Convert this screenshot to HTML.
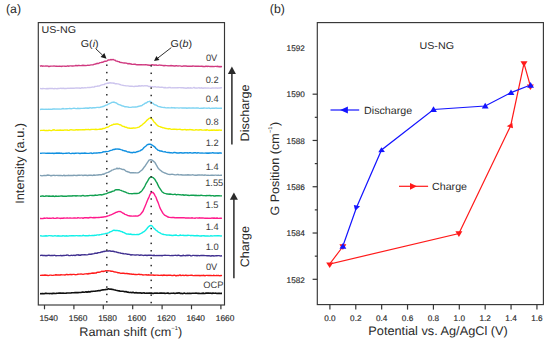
<!DOCTYPE html>
<html><head><meta charset="utf-8"><style>
html,body{margin:0;padding:0;background:#fff;overflow:hidden;}
svg{display:block;font-family:"Liberation Sans",sans-serif;text-rendering:geometricPrecision;}
</style></head><body>
<svg width="550" height="343" viewBox="0 0 550 343">
<rect width="550" height="343" fill="#fff"/>
<text transform="translate(6.00,13.20)" font-size="12.3" fill="#2a2a2a">(a)</text>
<text transform="translate(269.80,13.20)" font-size="12.3" fill="#2a2a2a">(b)</text>
<path d="M40.0,66.43 L41.0,65.71 L42.0,66.19 L43.0,66.05 L44.0,66.08 L45.0,66.12 L46.0,65.84 L47.0,66.14 L48.0,66.04 L49.0,66.71 L50.0,66.22 L51.0,66.13 L52.0,66.15 L53.0,66.09 L54.0,66.03 L55.0,66.14 L56.0,66.28 L57.0,66.16 L58.0,66.35 L59.0,66.17 L60.0,66.20 L61.0,66.44 L62.0,66.28 L63.0,66.10 L64.0,66.13 L65.0,66.23 L66.0,66.43 L67.0,66.05 L68.0,66.02 L69.0,66.19 L70.0,65.85 L71.0,65.91 L72.0,66.06 L73.0,65.98 L74.0,65.86 L75.0,65.91 L76.0,65.31 L77.0,65.88 L78.0,65.53 L79.0,65.37 L80.0,65.64 L81.0,65.67 L82.0,65.45 L83.0,65.31 L84.0,65.45 L85.0,65.39 L86.0,65.58 L87.0,65.42 L88.0,65.27 L89.0,65.35 L90.0,65.06 L91.0,64.83 L92.0,64.92 L93.0,64.74 L94.0,64.39 L95.0,64.07 L96.0,63.98 L97.0,63.30 L98.0,63.56 L99.0,63.27 L100.0,62.66 L101.0,62.65 L102.0,62.20 L103.0,62.18 L104.0,61.44 L105.0,61.30 L106.0,61.21 L107.0,60.91 L108.0,60.03 L109.0,59.97 L110.0,59.84 L111.0,59.52 L112.0,59.81 L113.0,59.46 L114.0,59.96 L115.0,60.11 L116.0,60.95 L117.0,61.16 L118.0,61.49 L119.0,61.58 L120.0,62.38 L121.0,62.45 L122.0,62.66 L123.0,62.91 L124.0,62.97 L125.0,62.98 L126.0,63.13 L127.0,63.29 L128.0,63.80 L129.0,63.51 L130.0,63.81 L131.0,64.01 L132.0,64.24 L133.0,64.42 L134.0,64.22 L135.0,64.22 L136.0,64.54 L137.0,64.78 L138.0,64.74 L139.0,64.69 L140.0,64.63 L141.0,64.75 L142.0,64.69 L143.0,64.88 L144.0,64.65 L145.0,64.82 L146.0,64.80 L147.0,64.93 L148.0,64.90 L149.0,65.31 L150.0,65.17 L151.0,65.20 L152.0,64.67 L153.0,64.98 L154.0,64.98 L155.0,65.20 L156.0,64.79 L157.0,65.38 L158.0,65.40 L159.0,65.06 L160.0,65.15 L161.0,65.22 L162.0,65.39 L163.0,65.53 L164.0,65.79 L165.0,65.47 L166.0,65.66 L167.0,65.59 L168.0,65.88 L169.0,65.75 L170.0,65.88 L171.0,65.52 L172.0,65.70 L173.0,65.63 L174.0,66.04 L175.0,65.94 L176.0,65.81 L177.0,65.82 L178.0,66.00 L179.0,65.84 L180.0,65.84 L181.0,66.09 L182.0,66.44 L183.0,66.03 L184.0,66.00 L185.0,65.93 L186.0,65.92 L187.0,66.24 L188.0,66.31 L189.0,66.19 L190.0,66.25 L191.0,66.23 L192.0,66.24 L193.0,65.99 L194.0,66.17 L195.0,66.27 L196.0,66.14 L197.0,66.19 L198.0,66.15 L199.0,66.24 L200.0,66.43 L201.0,66.24 L202.0,66.29 L203.0,66.45 L204.0,66.43 L205.0,66.61 L206.0,66.01 L207.0,66.49 L208.0,66.28 L209.0,66.38 L210.0,66.50 L211.0,66.55 L212.0,66.54 L213.0,66.41 L214.0,66.64 L215.0,66.34 L216.0,66.37 L217.0,66.52 L218.0,66.31 L219.0,66.74 L220.0,66.56 L221.0,66.75 L222.0,66.40" fill="none" stroke="#d03a80" stroke-width="1.4" stroke-linejoin="round"/>
<path d="M40.0,88.54 L41.0,88.63 L42.0,88.72 L43.0,88.50 L44.0,88.65 L45.0,88.59 L46.0,88.84 L47.0,88.47 L48.0,88.74 L49.0,88.46 L50.0,88.40 L51.0,88.44 L52.0,88.35 L53.0,88.55 L54.0,88.69 L55.0,88.54 L56.0,88.60 L57.0,88.75 L58.0,88.52 L59.0,88.49 L60.0,88.41 L61.0,88.18 L62.0,88.54 L63.0,88.13 L64.0,88.50 L65.0,88.38 L66.0,88.54 L67.0,88.34 L68.0,88.20 L69.0,88.37 L70.0,88.21 L71.0,88.25 L72.0,88.27 L73.0,88.22 L74.0,88.20 L75.0,88.07 L76.0,88.15 L77.0,87.81 L78.0,88.10 L79.0,87.90 L80.0,88.24 L81.0,88.23 L82.0,87.68 L83.0,87.97 L84.0,87.89 L85.0,87.69 L86.0,87.89 L87.0,87.68 L88.0,87.41 L89.0,87.57 L90.0,87.49 L91.0,87.41 L92.0,87.04 L93.0,87.17 L94.0,87.00 L95.0,86.50 L96.0,86.38 L97.0,86.25 L98.0,85.96 L99.0,86.11 L100.0,85.62 L101.0,85.15 L102.0,84.85 L103.0,84.61 L104.0,84.61 L105.0,83.84 L106.0,83.55 L107.0,83.32 L108.0,83.00 L109.0,83.24 L110.0,82.74 L111.0,82.98 L112.0,82.98 L113.0,83.18 L114.0,83.06 L115.0,83.71 L116.0,83.58 L117.0,83.79 L118.0,83.83 L119.0,84.08 L120.0,84.53 L121.0,84.86 L122.0,85.08 L123.0,85.39 L124.0,85.52 L125.0,85.59 L126.0,85.85 L127.0,85.92 L128.0,85.91 L129.0,86.13 L130.0,86.30 L131.0,86.21 L132.0,86.17 L133.0,86.38 L134.0,86.59 L135.0,86.25 L136.0,86.23 L137.0,86.15 L138.0,86.28 L139.0,85.70 L140.0,85.95 L141.0,86.00 L142.0,85.62 L143.0,85.95 L144.0,85.82 L145.0,85.70 L146.0,85.92 L147.0,85.77 L148.0,86.07 L149.0,86.61 L150.0,86.32 L151.0,86.88 L152.0,86.68 L153.0,86.94 L154.0,86.87 L155.0,86.59 L156.0,86.94 L157.0,87.15 L158.0,87.01 L159.0,87.05 L160.0,87.40 L161.0,87.30 L162.0,87.20 L163.0,87.42 L164.0,87.71 L165.0,87.54 L166.0,87.80 L167.0,87.92 L168.0,87.70 L169.0,87.53 L170.0,87.52 L171.0,87.73 L172.0,87.89 L173.0,87.80 L174.0,87.86 L175.0,87.71 L176.0,87.84 L177.0,87.72 L178.0,87.76 L179.0,87.61 L180.0,87.58 L181.0,87.76 L182.0,87.67 L183.0,87.70 L184.0,87.97 L185.0,87.85 L186.0,88.34 L187.0,88.03 L188.0,87.79 L189.0,88.02 L190.0,87.96 L191.0,87.80 L192.0,88.09 L193.0,87.80 L194.0,87.44 L195.0,88.06 L196.0,87.84 L197.0,88.18 L198.0,87.84 L199.0,87.76 L200.0,88.20 L201.0,87.79 L202.0,88.00 L203.0,88.20 L204.0,87.99 L205.0,87.96 L206.0,87.99 L207.0,88.12 L208.0,87.85 L209.0,88.08 L210.0,88.08 L211.0,88.36 L212.0,87.94 L213.0,87.85 L214.0,88.11 L215.0,87.93 L216.0,88.04 L217.0,88.02 L218.0,88.19 L219.0,87.89 L220.0,87.99 L221.0,87.59 L222.0,87.86" fill="none" stroke="#cdc5ee" stroke-width="1.4" stroke-linejoin="round"/>
<path d="M40.0,109.64 L41.0,109.27 L42.0,109.24 L43.0,109.14 L44.0,109.40 L45.0,109.32 L46.0,109.07 L47.0,109.35 L48.0,109.26 L49.0,109.31 L50.0,109.06 L51.0,109.42 L52.0,109.18 L53.0,109.07 L54.0,108.98 L55.0,108.99 L56.0,109.14 L57.0,108.94 L58.0,109.12 L59.0,109.02 L60.0,109.11 L61.0,109.00 L62.0,108.83 L63.0,108.50 L64.0,108.83 L65.0,108.88 L66.0,108.75 L67.0,108.78 L68.0,108.59 L69.0,108.57 L70.0,108.45 L71.0,108.79 L72.0,108.57 L73.0,108.43 L74.0,108.27 L75.0,108.43 L76.0,108.65 L77.0,108.46 L78.0,108.24 L79.0,108.56 L80.0,108.52 L81.0,108.42 L82.0,108.35 L83.0,108.38 L84.0,108.24 L85.0,108.24 L86.0,107.95 L87.0,108.28 L88.0,108.03 L89.0,108.27 L90.0,107.57 L91.0,107.96 L92.0,107.96 L93.0,107.70 L94.0,107.77 L95.0,107.76 L96.0,107.66 L97.0,107.41 L98.0,107.38 L99.0,107.47 L100.0,107.39 L101.0,107.02 L102.0,106.77 L103.0,106.48 L104.0,106.27 L105.0,105.56 L106.0,105.13 L107.0,104.94 L108.0,104.24 L109.0,103.76 L110.0,103.31 L111.0,102.86 L112.0,102.23 L113.0,102.33 L114.0,101.97 L115.0,102.64 L116.0,102.79 L117.0,103.42 L118.0,104.28 L119.0,104.56 L120.0,104.87 L121.0,105.27 L122.0,105.75 L123.0,105.99 L124.0,106.30 L125.0,106.74 L126.0,106.69 L127.0,106.91 L128.0,107.03 L129.0,107.36 L130.0,107.35 L131.0,107.38 L132.0,107.13 L133.0,107.06 L134.0,107.17 L135.0,106.90 L136.0,107.01 L137.0,106.88 L138.0,106.48 L139.0,106.30 L140.0,105.94 L141.0,105.81 L142.0,105.49 L143.0,104.58 L144.0,104.12 L145.0,103.24 L146.0,103.05 L147.0,102.38 L148.0,101.65 L149.0,101.62 L150.0,101.27 L151.0,101.95 L152.0,102.76 L153.0,103.31 L154.0,104.30 L155.0,104.90 L156.0,105.06 L157.0,105.57 L158.0,106.37 L159.0,106.66 L160.0,106.77 L161.0,107.11 L162.0,107.26 L163.0,107.35 L164.0,107.57 L165.0,107.57 L166.0,107.84 L167.0,107.83 L168.0,107.75 L169.0,107.85 L170.0,107.91 L171.0,107.83 L172.0,107.54 L173.0,107.90 L174.0,107.79 L175.0,108.05 L176.0,107.83 L177.0,107.91 L178.0,107.90 L179.0,108.13 L180.0,107.91 L181.0,107.85 L182.0,107.96 L183.0,107.85 L184.0,107.97 L185.0,107.95 L186.0,108.01 L187.0,108.29 L188.0,107.93 L189.0,108.01 L190.0,107.99 L191.0,108.14 L192.0,107.85 L193.0,107.94 L194.0,108.06 L195.0,108.16 L196.0,108.07 L197.0,108.01 L198.0,107.96 L199.0,108.19 L200.0,108.35 L201.0,108.18 L202.0,108.16 L203.0,108.21 L204.0,107.99 L205.0,108.10 L206.0,108.11 L207.0,108.21 L208.0,108.16 L209.0,107.98 L210.0,108.36 L211.0,108.45 L212.0,108.14 L213.0,108.25 L214.0,108.23 L215.0,108.32 L216.0,107.96 L217.0,108.45 L218.0,108.12 L219.0,108.40 L220.0,108.21 L221.0,108.14 L222.0,108.18" fill="none" stroke="#7fd4f2" stroke-width="1.4" stroke-linejoin="round"/>
<path d="M40.0,130.64 L41.0,130.35 L42.0,130.42 L43.0,130.39 L44.0,130.18 L45.0,130.64 L46.0,130.52 L47.0,130.40 L48.0,130.58 L49.0,130.23 L50.0,130.35 L51.0,130.62 L52.0,130.49 L53.0,129.96 L54.0,129.77 L55.0,130.12 L56.0,130.43 L57.0,130.17 L58.0,130.20 L59.0,130.31 L60.0,130.05 L61.0,130.21 L62.0,130.28 L63.0,130.21 L64.0,130.18 L65.0,130.00 L66.0,130.16 L67.0,129.99 L68.0,130.25 L69.0,130.43 L70.0,129.88 L71.0,129.63 L72.0,129.89 L73.0,129.99 L74.0,130.08 L75.0,130.06 L76.0,129.73 L77.0,129.71 L78.0,130.01 L79.0,129.61 L80.0,129.93 L81.0,129.69 L82.0,129.82 L83.0,129.79 L84.0,129.77 L85.0,129.75 L86.0,129.44 L87.0,129.62 L88.0,129.55 L89.0,129.57 L90.0,129.70 L91.0,129.44 L92.0,129.35 L93.0,129.33 L94.0,129.39 L95.0,129.54 L96.0,129.28 L97.0,129.57 L98.0,129.41 L99.0,129.30 L100.0,129.06 L101.0,129.20 L102.0,129.05 L103.0,128.36 L104.0,128.49 L105.0,128.18 L106.0,127.60 L107.0,127.24 L108.0,127.13 L109.0,126.49 L110.0,125.69 L111.0,125.41 L112.0,125.01 L113.0,124.70 L114.0,124.07 L115.0,124.33 L116.0,123.93 L117.0,123.98 L118.0,124.03 L119.0,124.48 L120.0,124.71 L121.0,125.12 L122.0,125.80 L123.0,126.35 L124.0,126.45 L125.0,127.10 L126.0,127.30 L127.0,127.52 L128.0,128.15 L129.0,127.99 L130.0,128.41 L131.0,128.20 L132.0,128.32 L133.0,127.98 L134.0,127.95 L135.0,128.12 L136.0,127.83 L137.0,127.63 L138.0,127.34 L139.0,127.15 L140.0,126.33 L141.0,125.68 L142.0,125.03 L143.0,124.06 L144.0,123.20 L145.0,122.37 L146.0,121.30 L147.0,120.13 L148.0,119.34 L149.0,118.40 L150.0,118.05 L151.0,118.13 L152.0,119.05 L153.0,120.31 L154.0,121.90 L155.0,122.79 L156.0,123.97 L157.0,125.04 L158.0,125.92 L159.0,126.43 L160.0,126.61 L161.0,127.18 L162.0,127.28 L163.0,127.80 L164.0,127.87 L165.0,128.23 L166.0,128.67 L167.0,128.57 L168.0,128.95 L169.0,128.75 L170.0,128.80 L171.0,129.19 L172.0,129.36 L173.0,129.08 L174.0,129.25 L175.0,129.07 L176.0,129.31 L177.0,129.52 L178.0,129.40 L179.0,129.36 L180.0,129.26 L181.0,129.58 L182.0,129.68 L183.0,129.68 L184.0,129.66 L185.0,129.45 L186.0,129.96 L187.0,129.70 L188.0,129.72 L189.0,129.89 L190.0,129.45 L191.0,129.81 L192.0,129.82 L193.0,129.93 L194.0,130.11 L195.0,129.99 L196.0,129.64 L197.0,129.90 L198.0,130.01 L199.0,130.02 L200.0,129.81 L201.0,129.77 L202.0,130.14 L203.0,130.12 L204.0,130.08 L205.0,129.82 L206.0,130.39 L207.0,129.65 L208.0,130.07 L209.0,130.47 L210.0,130.12 L211.0,130.20 L212.0,129.98 L213.0,130.39 L214.0,129.97 L215.0,130.23 L216.0,130.21 L217.0,130.03 L218.0,130.34 L219.0,129.97 L220.0,130.09 L221.0,130.20 L222.0,130.13" fill="none" stroke="#f8f000" stroke-width="1.4" stroke-linejoin="round"/>
<path d="M40.0,153.28 L41.0,153.35 L42.0,153.16 L43.0,153.13 L44.0,153.14 L45.0,153.17 L46.0,153.36 L47.0,153.20 L48.0,153.31 L49.0,153.23 L50.0,153.11 L51.0,153.39 L52.0,153.09 L53.0,153.26 L54.0,153.50 L55.0,153.10 L56.0,153.26 L57.0,153.02 L58.0,153.20 L59.0,153.04 L60.0,153.23 L61.0,153.20 L62.0,153.31 L63.0,153.55 L64.0,153.34 L65.0,153.40 L66.0,153.29 L67.0,153.26 L68.0,153.17 L69.0,153.01 L70.0,153.31 L71.0,153.56 L72.0,153.38 L73.0,153.21 L74.0,153.56 L75.0,153.23 L76.0,153.20 L77.0,153.11 L78.0,153.15 L79.0,153.26 L80.0,153.62 L81.0,153.27 L82.0,153.13 L83.0,153.20 L84.0,153.26 L85.0,153.03 L86.0,153.32 L87.0,153.41 L88.0,153.35 L89.0,153.40 L90.0,153.09 L91.0,153.01 L92.0,153.47 L93.0,153.40 L94.0,152.92 L95.0,153.14 L96.0,153.04 L97.0,153.05 L98.0,152.91 L99.0,152.71 L100.0,152.73 L101.0,152.61 L102.0,152.45 L103.0,152.01 L104.0,151.66 L105.0,151.84 L106.0,151.51 L107.0,151.60 L108.0,151.41 L109.0,151.04 L110.0,150.61 L111.0,150.33 L112.0,150.17 L113.0,149.55 L114.0,149.53 L115.0,149.27 L116.0,149.04 L117.0,149.17 L118.0,148.88 L119.0,149.32 L120.0,149.29 L121.0,149.64 L122.0,149.95 L123.0,150.52 L124.0,150.59 L125.0,151.00 L126.0,151.06 L127.0,151.66 L128.0,152.03 L129.0,152.01 L130.0,152.43 L131.0,152.42 L132.0,152.78 L133.0,152.49 L134.0,152.19 L135.0,152.57 L136.0,152.14 L137.0,151.77 L138.0,151.55 L139.0,151.08 L140.0,150.89 L141.0,150.14 L142.0,149.77 L143.0,148.78 L144.0,147.55 L145.0,146.71 L146.0,145.96 L147.0,144.87 L148.0,144.50 L149.0,144.22 L150.0,144.15 L151.0,144.46 L152.0,145.04 L153.0,145.70 L154.0,146.42 L155.0,147.18 L156.0,148.49 L157.0,149.29 L158.0,150.21 L159.0,150.44 L160.0,151.02 L161.0,150.96 L162.0,151.23 L163.0,151.58 L164.0,151.87 L165.0,151.76 L166.0,152.10 L167.0,152.39 L168.0,152.56 L169.0,152.50 L170.0,152.70 L171.0,152.67 L172.0,152.95 L173.0,152.83 L174.0,152.54 L175.0,152.42 L176.0,152.80 L177.0,152.98 L178.0,152.83 L179.0,152.96 L180.0,152.75 L181.0,152.62 L182.0,152.97 L183.0,152.87 L184.0,152.97 L185.0,152.65 L186.0,152.91 L187.0,152.79 L188.0,153.03 L189.0,152.81 L190.0,152.81 L191.0,152.82 L192.0,153.13 L193.0,152.93 L194.0,152.81 L195.0,152.78 L196.0,152.78 L197.0,153.19 L198.0,152.67 L199.0,152.82 L200.0,153.07 L201.0,153.16 L202.0,152.95 L203.0,153.10 L204.0,153.10 L205.0,153.14 L206.0,152.99 L207.0,153.25 L208.0,153.02 L209.0,153.24 L210.0,152.82 L211.0,153.15 L212.0,152.80 L213.0,152.76 L214.0,153.08 L215.0,152.87 L216.0,153.07 L217.0,152.83 L218.0,153.26 L219.0,153.01 L220.0,152.82 L221.0,153.03 L222.0,153.15" fill="none" stroke="#1090e0" stroke-width="1.4" stroke-linejoin="round"/>
<path d="M40.0,175.38 L41.0,175.59 L42.0,175.83 L43.0,175.64 L44.0,175.50 L45.0,175.41 L46.0,175.60 L47.0,175.26 L48.0,175.01 L49.0,175.39 L50.0,175.32 L51.0,175.77 L52.0,175.51 L53.0,175.33 L54.0,175.30 L55.0,175.56 L56.0,175.34 L57.0,175.38 L58.0,175.45 L59.0,175.48 L60.0,175.47 L61.0,175.47 L62.0,175.66 L63.0,175.72 L64.0,175.18 L65.0,175.85 L66.0,175.45 L67.0,175.63 L68.0,175.30 L69.0,175.47 L70.0,175.45 L71.0,175.42 L72.0,175.54 L73.0,175.50 L74.0,175.23 L75.0,175.36 L76.0,175.49 L77.0,175.48 L78.0,175.31 L79.0,175.31 L80.0,175.32 L81.0,175.16 L82.0,175.12 L83.0,175.56 L84.0,175.24 L85.0,175.30 L86.0,175.15 L87.0,175.47 L88.0,175.52 L89.0,175.19 L90.0,175.29 L91.0,175.07 L92.0,175.45 L93.0,175.29 L94.0,174.98 L95.0,175.28 L96.0,175.10 L97.0,175.06 L98.0,175.00 L99.0,174.77 L100.0,174.71 L101.0,174.76 L102.0,174.46 L103.0,174.04 L104.0,174.20 L105.0,173.48 L106.0,173.04 L107.0,172.63 L108.0,172.43 L109.0,172.01 L110.0,171.37 L111.0,170.95 L112.0,170.09 L113.0,169.84 L114.0,169.43 L115.0,169.13 L116.0,168.86 L117.0,168.20 L118.0,168.88 L119.0,168.25 L120.0,168.59 L121.0,168.92 L122.0,169.25 L123.0,169.51 L124.0,169.46 L125.0,170.30 L126.0,171.19 L127.0,171.49 L128.0,171.94 L129.0,172.03 L130.0,172.76 L131.0,172.74 L132.0,172.59 L133.0,172.77 L134.0,172.82 L135.0,172.69 L136.0,172.84 L137.0,172.88 L138.0,172.72 L139.0,172.39 L140.0,171.56 L141.0,170.73 L142.0,169.99 L143.0,168.73 L144.0,167.29 L145.0,166.23 L146.0,164.53 L147.0,163.11 L148.0,161.70 L149.0,160.19 L150.0,159.79 L151.0,159.73 L152.0,160.08 L153.0,160.90 L154.0,161.64 L155.0,162.57 L156.0,164.42 L157.0,166.12 L158.0,168.03 L159.0,169.15 L160.0,169.94 L161.0,170.79 L162.0,171.64 L163.0,172.17 L164.0,172.55 L165.0,173.03 L166.0,173.36 L167.0,173.78 L168.0,174.22 L169.0,174.34 L170.0,174.53 L171.0,174.36 L172.0,174.30 L173.0,174.33 L174.0,174.56 L175.0,174.87 L176.0,174.88 L177.0,174.56 L178.0,174.50 L179.0,174.90 L180.0,174.87 L181.0,174.60 L182.0,175.01 L183.0,174.89 L184.0,175.10 L185.0,174.96 L186.0,175.07 L187.0,175.00 L188.0,174.81 L189.0,174.94 L190.0,174.89 L191.0,175.15 L192.0,174.87 L193.0,174.80 L194.0,175.16 L195.0,175.25 L196.0,175.31 L197.0,175.27 L198.0,174.86 L199.0,175.00 L200.0,175.03 L201.0,175.13 L202.0,174.79 L203.0,175.14 L204.0,175.20 L205.0,175.01 L206.0,175.18 L207.0,175.36 L208.0,175.18 L209.0,175.35 L210.0,175.34 L211.0,175.25 L212.0,175.25 L213.0,175.13 L214.0,175.39 L215.0,175.12 L216.0,175.09 L217.0,175.31 L218.0,175.08 L219.0,175.27 L220.0,175.37 L221.0,175.21 L222.0,175.22" fill="none" stroke="#80a0b4" stroke-width="1.4" stroke-linejoin="round"/>
<path d="M40.0,196.35 L41.0,196.32 L42.0,195.95 L43.0,195.99 L44.0,196.41 L45.0,196.26 L46.0,195.86 L47.0,195.97 L48.0,196.19 L49.0,196.02 L50.0,196.25 L51.0,196.18 L52.0,196.24 L53.0,195.97 L54.0,196.25 L55.0,196.46 L56.0,196.01 L57.0,196.34 L58.0,196.28 L59.0,196.22 L60.0,196.09 L61.0,195.91 L62.0,195.95 L63.0,196.20 L64.0,196.22 L65.0,196.25 L66.0,196.20 L67.0,196.18 L68.0,195.96 L69.0,195.82 L70.0,196.04 L71.0,196.07 L72.0,195.99 L73.0,195.72 L74.0,195.87 L75.0,195.70 L76.0,195.95 L77.0,195.74 L78.0,195.86 L79.0,195.92 L80.0,195.87 L81.0,196.05 L82.0,195.63 L83.0,195.43 L84.0,195.90 L85.0,195.95 L86.0,195.92 L87.0,195.70 L88.0,195.71 L89.0,195.61 L90.0,195.34 L91.0,195.41 L92.0,195.54 L93.0,195.32 L94.0,195.67 L95.0,195.06 L96.0,195.19 L97.0,195.38 L98.0,195.04 L99.0,194.89 L100.0,194.77 L101.0,194.76 L102.0,194.95 L103.0,194.54 L104.0,194.29 L105.0,193.83 L106.0,193.74 L107.0,193.31 L108.0,192.82 L109.0,192.55 L110.0,192.27 L111.0,192.04 L112.0,191.46 L113.0,191.16 L114.0,190.99 L115.0,190.12 L116.0,189.69 L117.0,189.80 L118.0,189.65 L119.0,189.71 L120.0,190.07 L121.0,190.38 L122.0,190.93 L123.0,191.19 L124.0,191.76 L125.0,191.85 L126.0,192.34 L127.0,192.89 L128.0,193.15 L129.0,193.60 L130.0,193.64 L131.0,193.61 L132.0,193.74 L133.0,193.62 L134.0,193.46 L135.0,193.52 L136.0,193.57 L137.0,193.56 L138.0,193.42 L139.0,193.07 L140.0,192.32 L141.0,191.68 L142.0,190.61 L143.0,189.09 L144.0,187.73 L145.0,185.81 L146.0,183.72 L147.0,182.07 L148.0,180.40 L149.0,178.58 L150.0,177.49 L151.0,176.90 L152.0,177.13 L153.0,177.57 L154.0,178.55 L155.0,179.58 L156.0,181.33 L157.0,182.90 L158.0,185.19 L159.0,187.13 L160.0,188.72 L161.0,190.24 L162.0,191.71 L163.0,192.48 L164.0,193.04 L165.0,193.44 L166.0,193.69 L167.0,194.04 L168.0,193.88 L169.0,194.29 L170.0,193.98 L171.0,194.19 L172.0,194.38 L173.0,194.65 L174.0,194.43 L175.0,194.24 L176.0,194.70 L177.0,194.68 L178.0,194.55 L179.0,194.60 L180.0,194.70 L181.0,194.86 L182.0,194.99 L183.0,194.68 L184.0,195.32 L185.0,194.99 L186.0,194.97 L187.0,195.18 L188.0,195.12 L189.0,195.51 L190.0,195.35 L191.0,195.15 L192.0,195.18 L193.0,195.20 L194.0,195.25 L195.0,195.45 L196.0,195.27 L197.0,195.66 L198.0,195.42 L199.0,195.44 L200.0,195.64 L201.0,195.20 L202.0,195.39 L203.0,195.66 L204.0,195.59 L205.0,195.61 L206.0,195.70 L207.0,195.56 L208.0,195.65 L209.0,195.48 L210.0,195.41 L211.0,195.93 L212.0,195.59 L213.0,195.64 L214.0,195.99 L215.0,195.95 L216.0,195.70 L217.0,195.71 L218.0,195.79 L219.0,195.65 L220.0,195.89 L221.0,195.83 L222.0,195.83" fill="none" stroke="#10a050" stroke-width="1.4" stroke-linejoin="round"/>
<path d="M40.0,218.43 L41.0,218.42 L42.0,218.59 L43.0,218.53 L44.0,218.01 L45.0,218.42 L46.0,218.09 L47.0,218.03 L48.0,218.37 L49.0,218.13 L50.0,218.19 L51.0,218.40 L52.0,218.11 L53.0,218.06 L54.0,218.25 L55.0,218.38 L56.0,218.26 L57.0,217.92 L58.0,218.05 L59.0,218.12 L60.0,218.44 L61.0,218.26 L62.0,218.24 L63.0,218.29 L64.0,218.03 L65.0,218.15 L66.0,218.14 L67.0,217.89 L68.0,218.03 L69.0,218.11 L70.0,217.83 L71.0,218.12 L72.0,218.10 L73.0,218.13 L74.0,217.83 L75.0,217.96 L76.0,218.17 L77.0,218.05 L78.0,217.78 L79.0,217.93 L80.0,218.11 L81.0,217.86 L82.0,217.92 L83.0,218.26 L84.0,217.82 L85.0,217.80 L86.0,217.64 L87.0,217.68 L88.0,218.00 L89.0,217.72 L90.0,217.53 L91.0,217.55 L92.0,217.67 L93.0,217.77 L94.0,217.50 L95.0,217.70 L96.0,217.48 L97.0,217.58 L98.0,217.57 L99.0,217.54 L100.0,217.33 L101.0,217.30 L102.0,217.30 L103.0,216.87 L104.0,216.93 L105.0,216.78 L106.0,216.65 L107.0,216.23 L108.0,215.94 L109.0,215.67 L110.0,215.14 L111.0,214.79 L112.0,214.43 L113.0,213.97 L114.0,213.33 L115.0,213.00 L116.0,212.25 L117.0,212.26 L118.0,211.67 L119.0,211.57 L120.0,211.36 L121.0,211.82 L122.0,212.47 L123.0,213.23 L124.0,213.51 L125.0,214.40 L126.0,214.70 L127.0,215.04 L128.0,215.63 L129.0,215.80 L130.0,215.98 L131.0,215.98 L132.0,216.13 L133.0,216.10 L134.0,216.07 L135.0,215.94 L136.0,216.01 L137.0,216.10 L138.0,216.02 L139.0,215.35 L140.0,214.90 L141.0,213.81 L142.0,212.55 L143.0,211.24 L144.0,208.79 L145.0,206.48 L146.0,204.09 L147.0,201.48 L148.0,199.10 L149.0,197.08 L150.0,194.55 L151.0,192.96 L152.0,192.31 L153.0,192.47 L154.0,193.70 L155.0,195.60 L156.0,197.26 L157.0,200.16 L158.0,202.35 L159.0,205.12 L160.0,207.93 L161.0,209.97 L162.0,211.58 L163.0,213.38 L164.0,214.42 L165.0,215.37 L166.0,215.85 L167.0,216.45 L168.0,217.03 L169.0,217.25 L170.0,217.42 L171.0,217.58 L172.0,217.47 L173.0,217.41 L174.0,217.50 L175.0,217.84 L176.0,217.62 L177.0,217.70 L178.0,217.66 L179.0,217.75 L180.0,217.81 L181.0,217.76 L182.0,217.77 L183.0,217.69 L184.0,217.71 L185.0,217.93 L186.0,218.01 L187.0,218.06 L188.0,217.94 L189.0,217.82 L190.0,218.07 L191.0,218.08 L192.0,217.76 L193.0,218.14 L194.0,218.12 L195.0,218.31 L196.0,217.88 L197.0,217.87 L198.0,218.21 L199.0,217.81 L200.0,217.99 L201.0,217.94 L202.0,217.96 L203.0,217.83 L204.0,218.10 L205.0,218.30 L206.0,218.23 L207.0,218.23 L208.0,218.11 L209.0,218.40 L210.0,218.26 L211.0,218.35 L212.0,217.94 L213.0,218.24 L214.0,218.01 L215.0,218.25 L216.0,218.23 L217.0,218.02 L218.0,218.23 L219.0,218.38 L220.0,218.28 L221.0,218.29 L222.0,218.06" fill="none" stroke="#ff1a8c" stroke-width="1.4" stroke-linejoin="round"/>
<path d="M40.0,235.89 L41.0,235.82 L42.0,236.01 L43.0,236.17 L44.0,236.05 L45.0,235.97 L46.0,235.79 L47.0,236.03 L48.0,235.92 L49.0,235.65 L50.0,235.67 L51.0,235.89 L52.0,235.79 L53.0,236.19 L54.0,235.93 L55.0,235.75 L56.0,235.83 L57.0,236.15 L58.0,235.74 L59.0,236.01 L60.0,235.95 L61.0,236.10 L62.0,235.95 L63.0,235.79 L64.0,235.93 L65.0,235.85 L66.0,235.99 L67.0,235.81 L68.0,236.13 L69.0,235.79 L70.0,235.87 L71.0,235.69 L72.0,235.81 L73.0,235.78 L74.0,235.80 L75.0,235.91 L76.0,235.67 L77.0,235.62 L78.0,235.92 L79.0,235.69 L80.0,235.62 L81.0,235.91 L82.0,235.84 L83.0,235.28 L84.0,235.63 L85.0,235.81 L86.0,235.80 L87.0,235.57 L88.0,235.89 L89.0,235.49 L90.0,235.56 L91.0,235.58 L92.0,235.51 L93.0,235.56 L94.0,235.51 L95.0,235.23 L96.0,235.35 L97.0,234.89 L98.0,234.84 L99.0,235.01 L100.0,234.62 L101.0,234.63 L102.0,234.23 L103.0,234.08 L104.0,233.91 L105.0,233.75 L106.0,233.43 L107.0,233.21 L108.0,232.95 L109.0,232.61 L110.0,231.96 L111.0,231.58 L112.0,231.18 L113.0,230.49 L114.0,230.15 L115.0,230.52 L116.0,230.48 L117.0,230.42 L118.0,230.68 L119.0,230.75 L120.0,230.99 L121.0,231.57 L122.0,231.61 L123.0,232.37 L124.0,232.53 L125.0,233.11 L126.0,233.77 L127.0,234.07 L128.0,233.94 L129.0,234.28 L130.0,234.06 L131.0,234.22 L132.0,234.46 L133.0,234.69 L134.0,234.43 L135.0,234.65 L136.0,234.60 L137.0,234.37 L138.0,234.43 L139.0,234.44 L140.0,233.82 L141.0,233.45 L142.0,232.97 L143.0,232.12 L144.0,231.69 L145.0,230.76 L146.0,229.67 L147.0,228.53 L148.0,227.27 L149.0,226.35 L150.0,225.63 L151.0,225.41 L152.0,225.88 L153.0,227.13 L154.0,228.34 L155.0,229.06 L156.0,230.25 L157.0,230.85 L158.0,231.82 L159.0,232.39 L160.0,232.81 L161.0,233.54 L162.0,233.96 L163.0,234.24 L164.0,234.52 L165.0,234.67 L166.0,234.94 L167.0,234.95 L168.0,235.14 L169.0,234.95 L170.0,235.22 L171.0,235.29 L172.0,235.44 L173.0,235.43 L174.0,235.31 L175.0,235.19 L176.0,235.03 L177.0,235.34 L178.0,235.58 L179.0,235.64 L180.0,234.99 L181.0,235.29 L182.0,235.37 L183.0,235.28 L184.0,235.49 L185.0,235.48 L186.0,235.41 L187.0,235.50 L188.0,235.27 L189.0,235.38 L190.0,235.41 L191.0,235.71 L192.0,235.32 L193.0,235.56 L194.0,235.73 L195.0,235.61 L196.0,235.76 L197.0,235.54 L198.0,235.73 L199.0,235.81 L200.0,236.04 L201.0,235.81 L202.0,235.93 L203.0,235.71 L204.0,235.74 L205.0,235.98 L206.0,235.83 L207.0,235.97 L208.0,235.87 L209.0,236.10 L210.0,236.15 L211.0,235.64 L212.0,236.08 L213.0,235.85 L214.0,235.86 L215.0,235.77 L216.0,235.91 L217.0,235.62 L218.0,235.68 L219.0,235.68 L220.0,235.85 L221.0,235.95 L222.0,235.92" fill="none" stroke="#10f0e8" stroke-width="1.4" stroke-linejoin="round"/>
<path d="M40.0,255.56 L41.0,255.41 L42.0,255.22 L43.0,255.57 L44.0,255.53 L45.0,255.56 L46.0,255.73 L47.0,255.47 L48.0,255.46 L49.0,255.12 L50.0,255.58 L51.0,255.48 L52.0,255.37 L53.0,255.55 L54.0,255.32 L55.0,255.39 L56.0,255.79 L57.0,255.59 L58.0,255.62 L59.0,255.58 L60.0,255.56 L61.0,255.49 L62.0,255.82 L63.0,255.43 L64.0,255.56 L65.0,255.40 L66.0,255.37 L67.0,255.03 L68.0,255.11 L69.0,255.65 L70.0,255.63 L71.0,255.31 L72.0,255.35 L73.0,255.43 L74.0,255.15 L75.0,255.55 L76.0,255.06 L77.0,255.07 L78.0,254.69 L79.0,255.32 L80.0,255.02 L81.0,255.21 L82.0,254.72 L83.0,254.86 L84.0,254.75 L85.0,254.69 L86.0,254.90 L87.0,254.84 L88.0,254.61 L89.0,254.22 L90.0,254.31 L91.0,254.25 L92.0,253.98 L93.0,253.83 L94.0,253.65 L95.0,253.25 L96.0,253.25 L97.0,253.28 L98.0,252.68 L99.0,252.66 L100.0,252.58 L101.0,252.02 L102.0,252.01 L103.0,251.56 L104.0,251.54 L105.0,251.24 L106.0,251.17 L107.0,251.11 L108.0,251.07 L109.0,251.05 L110.0,250.71 L111.0,251.42 L112.0,251.23 L113.0,251.26 L114.0,251.52 L115.0,251.89 L116.0,251.91 L117.0,252.25 L118.0,252.47 L119.0,252.86 L120.0,252.87 L121.0,253.26 L122.0,253.43 L123.0,253.52 L124.0,253.90 L125.0,253.86 L126.0,253.82 L127.0,254.19 L128.0,254.30 L129.0,254.40 L130.0,254.55 L131.0,255.00 L132.0,254.75 L133.0,254.87 L134.0,254.83 L135.0,255.14 L136.0,254.97 L137.0,254.90 L138.0,254.88 L139.0,255.20 L140.0,255.28 L141.0,254.94 L142.0,255.11 L143.0,255.36 L144.0,255.45 L145.0,255.10 L146.0,255.27 L147.0,255.49 L148.0,255.28 L149.0,255.31 L150.0,255.31 L151.0,255.19 L152.0,255.42 L153.0,255.47 L154.0,255.20 L155.0,255.45 L156.0,255.61 L157.0,255.47 L158.0,255.59 L159.0,255.36 L160.0,255.67 L161.0,255.33 L162.0,255.76 L163.0,255.39 L164.0,255.35 L165.0,255.32 L166.0,255.40 L167.0,255.39 L168.0,255.36 L169.0,255.42 L170.0,255.59 L171.0,255.63 L172.0,255.43 L173.0,255.69 L174.0,255.34 L175.0,255.34 L176.0,255.32 L177.0,255.61 L178.0,255.27 L179.0,255.30 L180.0,255.73 L181.0,255.80 L182.0,255.75 L183.0,255.30 L184.0,255.55 L185.0,255.68 L186.0,255.57 L187.0,255.30 L188.0,255.51 L189.0,255.30 L190.0,255.38 L191.0,255.93 L192.0,255.70 L193.0,255.36 L194.0,255.36 L195.0,255.68 L196.0,255.52 L197.0,255.72 L198.0,255.53 L199.0,255.60 L200.0,255.68 L201.0,255.48 L202.0,255.35 L203.0,255.47 L204.0,255.56 L205.0,255.64 L206.0,255.67 L207.0,255.68 L208.0,255.78 L209.0,255.56 L210.0,255.94 L211.0,256.04 L212.0,255.79 L213.0,255.77 L214.0,255.94 L215.0,255.85 L216.0,255.79 L217.0,255.74 L218.0,255.65 L219.0,255.59 L220.0,255.89 L221.0,255.98 L222.0,255.63" fill="none" stroke="#403090" stroke-width="1.4" stroke-linejoin="round"/>
<path d="M40.0,275.37 L41.0,275.40 L42.0,275.29 L43.0,275.21 L44.0,275.26 L45.0,274.98 L46.0,275.27 L47.0,275.21 L48.0,275.57 L49.0,275.36 L50.0,275.13 L51.0,275.16 L52.0,275.41 L53.0,275.36 L54.0,275.11 L55.0,275.03 L56.0,274.80 L57.0,274.95 L58.0,274.94 L59.0,274.82 L60.0,275.19 L61.0,274.58 L62.0,274.83 L63.0,274.89 L64.0,274.86 L65.0,275.03 L66.0,274.50 L67.0,274.57 L68.0,274.68 L69.0,274.65 L70.0,274.54 L71.0,274.44 L72.0,274.71 L73.0,274.33 L74.0,274.38 L75.0,274.67 L76.0,274.68 L77.0,274.51 L78.0,274.20 L79.0,274.17 L80.0,274.12 L81.0,274.05 L82.0,274.12 L83.0,274.34 L84.0,274.13 L85.0,273.92 L86.0,273.86 L87.0,273.73 L88.0,274.04 L89.0,273.44 L90.0,273.70 L91.0,273.31 L92.0,273.24 L93.0,273.01 L94.0,273.24 L95.0,272.89 L96.0,273.16 L97.0,272.36 L98.0,272.16 L99.0,272.23 L100.0,272.02 L101.0,271.67 L102.0,271.19 L103.0,271.54 L104.0,271.22 L105.0,271.04 L106.0,270.77 L107.0,270.91 L108.0,270.71 L109.0,270.85 L110.0,270.91 L111.0,271.28 L112.0,271.19 L113.0,271.42 L114.0,271.88 L115.0,271.98 L116.0,272.18 L117.0,272.37 L118.0,272.76 L119.0,272.69 L120.0,273.04 L121.0,273.43 L122.0,273.30 L123.0,273.23 L124.0,273.27 L125.0,273.58 L126.0,273.46 L127.0,273.49 L128.0,273.71 L129.0,273.74 L130.0,274.13 L131.0,273.84 L132.0,274.39 L133.0,274.09 L134.0,274.30 L135.0,274.45 L136.0,274.45 L137.0,274.59 L138.0,274.38 L139.0,274.24 L140.0,274.63 L141.0,274.46 L142.0,274.69 L143.0,274.98 L144.0,274.85 L145.0,274.83 L146.0,274.79 L147.0,274.95 L148.0,275.00 L149.0,274.80 L150.0,275.12 L151.0,274.92 L152.0,275.14 L153.0,275.05 L154.0,275.29 L155.0,275.28 L156.0,275.16 L157.0,275.15 L158.0,275.25 L159.0,275.41 L160.0,275.37 L161.0,275.24 L162.0,275.27 L163.0,275.48 L164.0,274.98 L165.0,275.34 L166.0,275.12 L167.0,275.49 L168.0,275.20 L169.0,275.27 L170.0,275.12 L171.0,275.31 L172.0,275.44 L173.0,275.59 L174.0,275.13 L175.0,275.27 L176.0,275.97 L177.0,275.50 L178.0,275.36 L179.0,275.45 L180.0,274.95 L181.0,275.64 L182.0,275.41 L183.0,275.16 L184.0,275.59 L185.0,275.30 L186.0,275.24 L187.0,275.50 L188.0,275.48 L189.0,275.35 L190.0,275.42 L191.0,275.22 L192.0,275.21 L193.0,275.59 L194.0,275.66 L195.0,275.52 L196.0,275.51 L197.0,275.40 L198.0,275.44 L199.0,275.32 L200.0,275.75 L201.0,275.38 L202.0,275.54 L203.0,275.48 L204.0,275.26 L205.0,275.79 L206.0,275.42 L207.0,275.36 L208.0,275.51 L209.0,275.35 L210.0,275.50 L211.0,275.34 L212.0,275.58 L213.0,275.50 L214.0,275.28 L215.0,275.66 L216.0,275.53 L217.0,275.32 L218.0,275.56 L219.0,275.57 L220.0,275.80 L221.0,275.36 L222.0,275.64" fill="none" stroke="#ff1a1a" stroke-width="1.4" stroke-linejoin="round"/>
<path d="M40.0,293.67 L41.0,293.77 L42.0,293.62 L43.0,293.63 L44.0,293.70 L45.0,293.41 L46.0,293.24 L47.0,293.55 L48.0,293.46 L49.0,293.52 L50.0,293.58 L51.0,293.42 L52.0,293.61 L53.0,293.39 L54.0,293.38 L55.0,293.47 L56.0,293.40 L57.0,293.26 L58.0,293.26 L59.0,293.08 L60.0,293.07 L61.0,293.15 L62.0,293.23 L63.0,293.00 L64.0,293.17 L65.0,293.31 L66.0,293.30 L67.0,292.92 L68.0,293.05 L69.0,292.94 L70.0,292.93 L71.0,292.90 L72.0,292.81 L73.0,292.82 L74.0,292.68 L75.0,292.56 L76.0,292.60 L77.0,292.59 L78.0,292.66 L79.0,292.48 L80.0,292.49 L81.0,292.55 L82.0,292.11 L83.0,292.16 L84.0,292.23 L85.0,292.09 L86.0,291.86 L87.0,292.11 L88.0,291.87 L89.0,291.64 L90.0,292.02 L91.0,291.42 L92.0,291.52 L93.0,291.31 L94.0,291.32 L95.0,291.28 L96.0,290.93 L97.0,290.91 L98.0,290.77 L99.0,290.48 L100.0,290.67 L101.0,290.34 L102.0,290.09 L103.0,289.85 L104.0,289.73 L105.0,289.65 L106.0,289.41 L107.0,289.57 L108.0,288.89 L109.0,288.92 L110.0,289.24 L111.0,289.04 L112.0,289.42 L113.0,289.46 L114.0,289.82 L115.0,289.98 L116.0,290.33 L117.0,290.48 L118.0,290.74 L119.0,290.83 L120.0,291.11 L121.0,291.20 L122.0,291.20 L123.0,291.26 L124.0,291.42 L125.0,291.85 L126.0,291.54 L127.0,292.09 L128.0,292.08 L129.0,292.44 L130.0,292.47 L131.0,292.42 L132.0,292.63 L133.0,292.34 L134.0,292.81 L135.0,292.89 L136.0,292.56 L137.0,293.02 L138.0,292.90 L139.0,292.97 L140.0,292.74 L141.0,293.08 L142.0,293.10 L143.0,293.02 L144.0,292.88 L145.0,293.18 L146.0,293.27 L147.0,293.14 L148.0,293.25 L149.0,293.00 L150.0,293.13 L151.0,293.17 L152.0,293.14 L153.0,293.58 L154.0,293.20 L155.0,293.05 L156.0,293.28 L157.0,292.98 L158.0,293.21 L159.0,293.28 L160.0,293.09 L161.0,293.12 L162.0,293.03 L163.0,293.20 L164.0,293.08 L165.0,293.47 L166.0,293.30 L167.0,293.16 L168.0,292.98 L169.0,293.54 L170.0,293.42 L171.0,293.29 L172.0,293.25 L173.0,293.25 L174.0,293.16 L175.0,293.54 L176.0,293.27 L177.0,293.01 L178.0,293.14 L179.0,292.83 L180.0,293.36 L181.0,293.38 L182.0,293.54 L183.0,293.60 L184.0,293.14 L185.0,293.34 L186.0,293.43 L187.0,293.40 L188.0,293.19 L189.0,293.41 L190.0,293.36 L191.0,293.50 L192.0,293.28 L193.0,293.25 L194.0,293.21 L195.0,293.23 L196.0,293.17 L197.0,293.24 L198.0,293.37 L199.0,293.37 L200.0,293.51 L201.0,293.47 L202.0,293.40 L203.0,293.12 L204.0,293.39 L205.0,293.49 L206.0,293.10 L207.0,293.13 L208.0,293.15 L209.0,293.14 L210.0,293.26 L211.0,293.16 L212.0,293.37 L213.0,293.11 L214.0,293.29 L215.0,293.23 L216.0,293.15 L217.0,293.47 L218.0,293.31 L219.0,293.40 L220.0,293.26 L221.0,293.42 L222.0,293.41" fill="none" stroke="#101010" stroke-width="1.6" stroke-linejoin="round"/>
<g fill="#2a2a2a"><rect x="106.05" y="64.45" width="1.5" height="1.5"/><rect x="106.05" y="71.84" width="1.5" height="1.5"/><rect x="106.05" y="79.24" width="1.5" height="1.5"/><rect x="106.05" y="86.64" width="1.5" height="1.5"/><rect x="106.05" y="94.03" width="1.5" height="1.5"/><rect x="106.05" y="101.42" width="1.5" height="1.5"/><rect x="106.05" y="108.82" width="1.5" height="1.5"/><rect x="106.05" y="116.22" width="1.5" height="1.5"/><rect x="106.05" y="123.61" width="1.5" height="1.5"/><rect x="106.05" y="131.00" width="1.5" height="1.5"/><rect x="106.05" y="138.40" width="1.5" height="1.5"/><rect x="106.05" y="145.80" width="1.5" height="1.5"/><rect x="106.05" y="153.19" width="1.5" height="1.5"/><rect x="106.05" y="160.58" width="1.5" height="1.5"/><rect x="106.05" y="167.98" width="1.5" height="1.5"/><rect x="106.05" y="175.38" width="1.5" height="1.5"/><rect x="106.05" y="182.77" width="1.5" height="1.5"/><rect x="106.05" y="190.16" width="1.5" height="1.5"/><rect x="106.05" y="197.56" width="1.5" height="1.5"/><rect x="106.05" y="204.95" width="1.5" height="1.5"/><rect x="106.05" y="212.35" width="1.5" height="1.5"/><rect x="106.05" y="219.75" width="1.5" height="1.5"/><rect x="106.05" y="227.14" width="1.5" height="1.5"/><rect x="106.05" y="234.53" width="1.5" height="1.5"/><rect x="106.05" y="241.93" width="1.5" height="1.5"/><rect x="106.05" y="249.32" width="1.5" height="1.5"/><rect x="106.05" y="256.72" width="1.5" height="1.5"/><rect x="106.05" y="264.12" width="1.5" height="1.5"/><rect x="106.05" y="271.51" width="1.5" height="1.5"/><rect x="106.05" y="278.90" width="1.5" height="1.5"/><rect x="106.05" y="286.30" width="1.5" height="1.5"/><rect x="106.05" y="293.69" width="1.5" height="1.5"/><rect x="106.05" y="301.09" width="1.5" height="1.5"/></g>
<g fill="#2a2a2a"><rect x="150.45" y="65.15" width="1.5" height="1.5"/><rect x="150.45" y="72.55" width="1.5" height="1.5"/><rect x="150.45" y="79.94" width="1.5" height="1.5"/><rect x="150.45" y="87.34" width="1.5" height="1.5"/><rect x="150.45" y="94.73" width="1.5" height="1.5"/><rect x="150.45" y="102.12" width="1.5" height="1.5"/><rect x="150.45" y="109.52" width="1.5" height="1.5"/><rect x="150.45" y="116.92" width="1.5" height="1.5"/><rect x="150.45" y="124.31" width="1.5" height="1.5"/><rect x="150.45" y="131.70" width="1.5" height="1.5"/><rect x="150.45" y="139.10" width="1.5" height="1.5"/><rect x="150.45" y="146.50" width="1.5" height="1.5"/><rect x="150.45" y="153.89" width="1.5" height="1.5"/><rect x="150.45" y="161.28" width="1.5" height="1.5"/><rect x="150.45" y="168.68" width="1.5" height="1.5"/><rect x="150.45" y="176.07" width="1.5" height="1.5"/><rect x="150.45" y="183.47" width="1.5" height="1.5"/><rect x="150.45" y="190.87" width="1.5" height="1.5"/><rect x="150.45" y="198.26" width="1.5" height="1.5"/><rect x="150.45" y="205.66" width="1.5" height="1.5"/><rect x="150.45" y="213.05" width="1.5" height="1.5"/><rect x="150.45" y="220.44" width="1.5" height="1.5"/><rect x="150.45" y="227.84" width="1.5" height="1.5"/><rect x="150.45" y="235.23" width="1.5" height="1.5"/><rect x="150.45" y="242.63" width="1.5" height="1.5"/><rect x="150.45" y="250.03" width="1.5" height="1.5"/><rect x="150.45" y="257.42" width="1.5" height="1.5"/><rect x="150.45" y="264.81" width="1.5" height="1.5"/><rect x="150.45" y="272.21" width="1.5" height="1.5"/><rect x="150.45" y="279.61" width="1.5" height="1.5"/><rect x="150.45" y="287.00" width="1.5" height="1.5"/><rect x="150.45" y="294.39" width="1.5" height="1.5"/><rect x="150.45" y="301.79" width="1.5" height="1.5"/></g>
<rect x="38.3" y="22.6" width="186.2" height="282.4" fill="none" stroke="#363636" stroke-width="1.15"/>
<line x1="44.50" y1="305" x2="44.50" y2="309.3" stroke="#363636" stroke-width="1.2"/>
<text transform="translate(48.70,320.80)" font-size="8.4" text-anchor="middle" fill="#2a2a2a" stroke="#2a2a2a" stroke-width="0.15">1540</text>
<line x1="73.90" y1="305" x2="73.90" y2="309.3" stroke="#363636" stroke-width="1.2"/>
<text transform="translate(78.10,320.80)" font-size="8.4" text-anchor="middle" fill="#2a2a2a" stroke="#2a2a2a" stroke-width="0.15">1560</text>
<line x1="103.30" y1="305" x2="103.30" y2="309.3" stroke="#363636" stroke-width="1.2"/>
<text transform="translate(107.50,320.80)" font-size="8.4" text-anchor="middle" fill="#2a2a2a" stroke="#2a2a2a" stroke-width="0.15">1580</text>
<line x1="132.70" y1="305" x2="132.70" y2="309.3" stroke="#363636" stroke-width="1.2"/>
<text transform="translate(136.90,320.80)" font-size="8.4" text-anchor="middle" fill="#2a2a2a" stroke="#2a2a2a" stroke-width="0.15">1600</text>
<line x1="162.10" y1="305" x2="162.10" y2="309.3" stroke="#363636" stroke-width="1.2"/>
<text transform="translate(166.30,320.80)" font-size="8.4" text-anchor="middle" fill="#2a2a2a" stroke="#2a2a2a" stroke-width="0.15">1620</text>
<line x1="191.50" y1="305" x2="191.50" y2="309.3" stroke="#363636" stroke-width="1.2"/>
<text transform="translate(195.70,320.80)" font-size="8.4" text-anchor="middle" fill="#2a2a2a" stroke="#2a2a2a" stroke-width="0.15">1640</text>
<line x1="220.90" y1="305" x2="220.90" y2="309.3" stroke="#363636" stroke-width="1.2"/>
<text transform="translate(225.10,320.80)" font-size="8.4" text-anchor="middle" fill="#2a2a2a" stroke="#2a2a2a" stroke-width="0.15">1660</text>
<text transform="translate(79.30,335.80) scale(1.028,1)" font-size="12.3" fill="#2a2a2a">Raman shift (cm<tspan font-size="5.6" dy="-6">&#8722;1</tspan><tspan dy="6">)</tspan></text>
<text transform="translate(24.20,203.80) rotate(-90) scale(1.038,1)" font-size="12.3" fill="#2a2a2a">Intensity (a.u.)</text>
<text transform="translate(41.50,33.20) scale(1.07,1)" font-size="10" fill="#2a2a2a">US-NG</text>
<text transform="translate(80.80,46.70) scale(1.06,1)" font-size="10.1" fill="#2a2a2a">G(<tspan font-style="italic">i</tspan>)</text>
<text transform="translate(170.60,46.90) scale(1.06,1)" font-size="10.1" fill="#2a2a2a">G(<tspan font-style="italic">b</tspan>)</text>
<line x1="96" y1="49" x2="102.48" y2="55.05" stroke="#1a1a1a" stroke-width="0.9"/>
<polygon points="106.50,58.80 100.57,57.09 104.39,53.00" fill="#1a1a1a"/>
<line x1="171.3" y1="47.6" x2="157.95" y2="57.94" stroke="#1a1a1a" stroke-width="0.9"/>
<polygon points="154.00,61.00 156.42,55.96 159.48,59.91" fill="#1a1a1a"/>
<text transform="translate(205.90,60.90)" font-size="9.3" fill="#3c3c3c">0V</text>
<text transform="translate(205.70,83.40)" font-size="9.3" fill="#3c3c3c">0.2</text>
<text transform="translate(205.70,101.70)" font-size="9.3" fill="#3c3c3c">0.4</text>
<text transform="translate(205.70,124.60)" font-size="9.3" fill="#3c3c3c">0.8</text>
<text transform="translate(205.70,146.10)" font-size="9.3" fill="#3c3c3c">1.2</text>
<text transform="translate(205.70,170.30)" font-size="9.3" fill="#3c3c3c">1.4</text>
<text transform="translate(205.20,185.80)" font-size="9.3" fill="#3c3c3c">1.55</text>
<text transform="translate(205.50,208.00)" font-size="9.3" fill="#3c3c3c">1.5</text>
<text transform="translate(205.70,229.60)" font-size="9.3" fill="#3c3c3c">1.4</text>
<text transform="translate(205.70,249.80)" font-size="9.3" fill="#3c3c3c">1.0</text>
<text transform="translate(205.90,269.50)" font-size="9.3" fill="#3c3c3c">0V</text>
<text transform="translate(203.20,288.00)" font-size="9.3" fill="#3c3c3c">OCP</text>
<line x1="231.9" y1="72" x2="231.9" y2="144.5" stroke="#2a2a2a" stroke-width="1.5"/>
<polygon points="231.9,66.5 227.9,74 235.9,74" fill="#2a2a2a"/>
<text transform="translate(249.20,141.40) rotate(-90) scale(1.04,1)" font-size="12.2" fill="#2a2a2a">Discharge</text>
<line x1="233.9" y1="198" x2="233.9" y2="278.3" stroke="#2a2a2a" stroke-width="1.5"/>
<polygon points="233.9,192.6 229.9,199.8 237.9,199.8" fill="#2a2a2a"/>
<text transform="translate(249.00,267.20) rotate(-90) scale(1.028,1)" font-size="12.2" fill="#2a2a2a">Charge</text>
<rect x="317.3" y="22.6" width="226.1" height="282" fill="none" stroke="#363636" stroke-width="1.15"/>
<line x1="312.60" y1="279.30" x2="317.2" y2="279.30" stroke="#363636" stroke-width="1.2"/>
<line x1="314.80" y1="256.16" x2="317.2" y2="256.16" stroke="#363636" stroke-width="1.2"/>
<line x1="312.60" y1="233.02" x2="317.2" y2="233.02" stroke="#363636" stroke-width="1.2"/>
<line x1="314.80" y1="209.88" x2="317.2" y2="209.88" stroke="#363636" stroke-width="1.2"/>
<line x1="312.60" y1="186.74" x2="317.2" y2="186.74" stroke="#363636" stroke-width="1.2"/>
<line x1="314.80" y1="163.60" x2="317.2" y2="163.60" stroke="#363636" stroke-width="1.2"/>
<line x1="312.60" y1="140.46" x2="317.2" y2="140.46" stroke="#363636" stroke-width="1.2"/>
<line x1="314.80" y1="117.32" x2="317.2" y2="117.32" stroke="#363636" stroke-width="1.2"/>
<line x1="312.60" y1="94.18" x2="317.2" y2="94.18" stroke="#363636" stroke-width="1.2"/>
<text transform="translate(304.80,282.50)" font-size="8.2" text-anchor="end" fill="#2a2a2a" stroke="#2a2a2a" stroke-width="0.15">1582</text>
<text transform="translate(304.80,236.22)" font-size="8.2" text-anchor="end" fill="#2a2a2a" stroke="#2a2a2a" stroke-width="0.15">1584</text>
<text transform="translate(304.80,189.94)" font-size="8.2" text-anchor="end" fill="#2a2a2a" stroke="#2a2a2a" stroke-width="0.15">1586</text>
<text transform="translate(304.80,143.66)" font-size="8.2" text-anchor="end" fill="#2a2a2a" stroke="#2a2a2a" stroke-width="0.15">1588</text>
<text transform="translate(304.80,97.38)" font-size="8.2" text-anchor="end" fill="#2a2a2a" stroke="#2a2a2a" stroke-width="0.15">1590</text>
<text transform="translate(304.80,51.10)" font-size="8.2" text-anchor="end" fill="#2a2a2a" stroke="#2a2a2a" stroke-width="0.15">1592</text>
<line x1="329.90" y1="304.6" x2="329.90" y2="309.6" stroke="#363636" stroke-width="1.2"/>
<text transform="translate(329.90,320.90)" font-size="8.2" text-anchor="middle" fill="#2a2a2a" stroke="#2a2a2a" stroke-width="0.15">0.0</text>
<line x1="355.78" y1="304.6" x2="355.78" y2="309.6" stroke="#363636" stroke-width="1.2"/>
<text transform="translate(355.78,320.90)" font-size="8.2" text-anchor="middle" fill="#2a2a2a" stroke="#2a2a2a" stroke-width="0.15">0.2</text>
<line x1="381.66" y1="304.6" x2="381.66" y2="309.6" stroke="#363636" stroke-width="1.2"/>
<text transform="translate(381.66,320.90)" font-size="8.2" text-anchor="middle" fill="#2a2a2a" stroke="#2a2a2a" stroke-width="0.15">0.4</text>
<line x1="407.54" y1="304.6" x2="407.54" y2="309.6" stroke="#363636" stroke-width="1.2"/>
<text transform="translate(407.54,320.90)" font-size="8.2" text-anchor="middle" fill="#2a2a2a" stroke="#2a2a2a" stroke-width="0.15">0.6</text>
<line x1="433.42" y1="304.6" x2="433.42" y2="309.6" stroke="#363636" stroke-width="1.2"/>
<text transform="translate(433.42,320.90)" font-size="8.2" text-anchor="middle" fill="#2a2a2a" stroke="#2a2a2a" stroke-width="0.15">0.8</text>
<line x1="459.30" y1="304.6" x2="459.30" y2="309.6" stroke="#363636" stroke-width="1.2"/>
<text transform="translate(459.30,320.90)" font-size="8.2" text-anchor="middle" fill="#2a2a2a" stroke="#2a2a2a" stroke-width="0.15">1.0</text>
<line x1="485.18" y1="304.6" x2="485.18" y2="309.6" stroke="#363636" stroke-width="1.2"/>
<text transform="translate(485.18,320.90)" font-size="8.2" text-anchor="middle" fill="#2a2a2a" stroke="#2a2a2a" stroke-width="0.15">1.2</text>
<line x1="511.06" y1="304.6" x2="511.06" y2="309.6" stroke="#363636" stroke-width="1.2"/>
<text transform="translate(511.06,320.90)" font-size="8.2" text-anchor="middle" fill="#2a2a2a" stroke="#2a2a2a" stroke-width="0.15">1.4</text>
<line x1="536.94" y1="304.6" x2="536.94" y2="309.6" stroke="#363636" stroke-width="1.2"/>
<text transform="translate(536.94,320.90)" font-size="8.2" text-anchor="middle" fill="#2a2a2a" stroke="#2a2a2a" stroke-width="0.15">1.6</text>
<text transform="translate(368.30,334.50) scale(1.028,1)" font-size="12.4" fill="#2a2a2a">Potential vs. Ag/AgCl (V)</text>
<text transform="translate(278.70,215.50) rotate(-90) scale(1.028,1)" font-size="12.2" fill="#2a2a2a">G Position (cm<tspan font-size="5.4" dy="-7" dx="0.3">&#8722;1</tspan><tspan dy="7" dx="0.6">)</tspan></text>
<text transform="translate(419.50,48.90) scale(1.07,1)" font-size="10" fill="#2a2a2a">US-NG</text>
<polyline points="342.9,246.5 329.7,264 458.9,233.5 510.7,125.7 524,63.3 530.5,86.5" fill="none" stroke="#ff1a1a" stroke-width="1.2"/>
<polyline points="530.5,85 511,92.6 485.2,106 433.5,109.5 381.5,150 356.5,207.5 342.9,246" fill="none" stroke="#1414ff" stroke-width="1.2"/>
<polygon points="342.90,249.88 339.40,244.28 346.40,244.28" fill="#ff1a1a"/>
<polygon points="329.70,268.08 326.20,262.48 333.20,262.48" fill="#ff1a1a"/>
<polygon points="458.90,236.88 455.40,231.28 462.40,231.28" fill="#ff1a1a"/>
<polygon points="512.3,122.7 506.7,126.2 513,128.3" fill="#ff1a1a"/>
<polygon points="524.00,66.88 520.50,61.28 527.50,61.28" fill="#ff1a1a"/>
<polygon points="530.40,89.98 526.90,84.38 533.90,84.38" fill="#ff1a1a"/>
<polygon points="530.60,82.12 527.20,87.72 534.00,87.72" fill="#1414ff"/>
<polygon points="511.00,89.52 507.60,95.12 514.40,95.12" fill="#1414ff"/>
<polygon points="485.20,102.82 481.80,108.42 488.60,108.42" fill="#1414ff"/>
<polygon points="433.50,106.32 430.10,111.92 436.90,111.92" fill="#1414ff"/>
<polygon points="381.4,147.2 378.3,152.2 384.9,152" fill="#1414ff"/>
<polygon points="353.8,205 360.1,206.3 355.2,210.8" fill="#1414ff"/>
<polygon points="342.90,243.12 339.50,248.72 346.30,248.72" fill="#1414ff"/>
<line x1="330.5" y1="110" x2="359.2" y2="110" stroke="#1414ff" stroke-width="1.2"/>
<polygon points="340.2,110 347.9,106.5 347.9,113.4" fill="#1414ff"/>
<text transform="translate(364.10,113.70) scale(1.028,1)" font-size="10.4" fill="#2a2a2a">Discharge</text>
<line x1="399" y1="186.3" x2="428.1" y2="186.3" stroke="#ff1a1a" stroke-width="1.2"/>
<polygon points="416.9,186.3 410,182.9 410,189.7" fill="#ff1a1a"/>
<text transform="translate(432.00,189.90) scale(1.028,1)" font-size="10.4" fill="#2a2a2a">Charge</text>
</svg>
</body></html>
